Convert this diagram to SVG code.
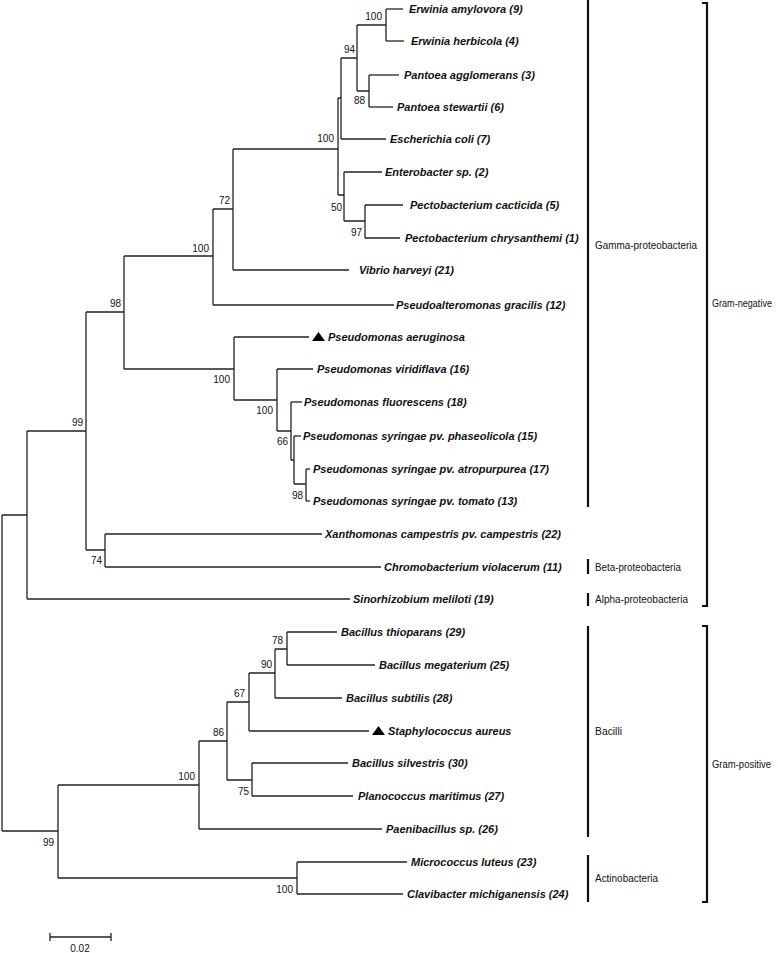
<svg xmlns="http://www.w3.org/2000/svg" width="778" height="953" viewBox="0 0 778 953">
<style>
.t{fill:none;stroke:#222;stroke-width:1.3}
.b{fill:none;stroke:#111;stroke-width:2.2}
.sp{font-family:"Liberation Sans",Arial,sans-serif;font-size:11px;font-weight:bold;font-style:italic;fill:#111}
.bs{font-family:"Liberation Sans",Arial,sans-serif;font-size:10px;fill:#111;text-anchor:end}
.cl{font-family:"Liberation Sans",Arial,sans-serif;font-size:11px;fill:#111}
</style>
<rect width="778" height="953" fill="#fff"/>
<g id="connectors" class="t">
<path d="M2,515V831M2,515H27M2,831H58"/>
<path d="M27,431V599M27,431H86"/>
<path d="M86,312V550M86,312H124M86,550H105"/>
<path d="M105,534V567"/>
<path d="M124,256V369M124,256H213M124,369H234"/>
<path d="M213,209V305M213,209H233"/>
<path d="M233,149V270M233,149H338"/>
<path d="M338,98V195M338,98H341M338,195H344"/>
<path d="M341,58V139M341,58H357"/>
<path d="M357,25V91M357,25H386M357,91H369"/>
<path d="M386,9V41M369,75V107"/>
<path d="M344,172V221M344,221H365M365,205V238"/>
<path d="M234,337V400M234,400H277M277,369V431M277,431H291"/>
<path d="M291,402V460M291,460H294M294,436V484M294,484H306M306,469V501"/>
<path d="M58,785V878M58,785H199M58,878H297M297,862V894"/>
<path d="M199,741V829M199,741H227M227,702V780M227,702H249M227,780H252"/>
<path d="M249,673V731M249,673H275M275,649V698M275,649H287M287,632V665M252,763V796"/>
</g>
<g id="leaves">
<g id="n1"><path class="t" d="M386,9H403"/><text class="sp" x="409" y="13">Erwinia amylovora (9)</text></g>
<g id="n2"><path class="t" d="M386,41H404"/><text class="sp" x="411" y="45">Erwinia herbicola (4)</text></g>
<g id="n3"><path class="t" d="M369,75H399"/><text class="sp" x="404" y="79">Pantoea agglomerans (3)</text></g>
<g id="n4"><path class="t" d="M369,107H393"/><text class="sp" x="397" y="111">Pantoea stewartii (6)</text></g>
<g id="n5"><path class="t" d="M341,139H386"/><text class="sp" x="390" y="143">Escherichia coli (7)</text></g>
<g id="n6"><path class="t" d="M344,172H382"/><text class="sp" x="385" y="176">Enterobacter sp. (2)</text></g>
<g id="n7"><path class="t" d="M365,205H403"/><text class="sp" x="410" y="209">Pectobacterium cacticida (5)</text></g>
<g id="n8"><path class="t" d="M365,238H400"/><text class="sp" x="405" y="242">Pectobacterium chrysanthemi (1)</text></g>
<g id="n9"><path class="t" d="M233,270H349"/><text class="sp" x="359" y="274">Vibrio harveyi (21)</text></g>
<g id="n10"><path class="t" d="M213,305H394"/><text class="sp" x="396" y="309">Pseudoalteromonas gracilis (12)</text></g>
<g id="n11"><path class="t" d="M234,337H309"/><polygon points="312,341 318.5,332 325,341" fill="#000"/><text class="sp" x="328" y="341">Pseudomonas aeruginosa</text></g>
<g id="n12"><path class="t" d="M277,369H313"/><text class="sp" x="317" y="373">Pseudomonas viridiflava (16)</text></g>
<g id="n13"><path class="t" d="M291,402H302"/><text class="sp" x="304" y="406">Pseudomonas fluorescens (18)</text></g>
<g id="n14"><path class="t" d="M294,436H301"/><text class="sp" x="303" y="440">Pseudomonas syringae pv. phaseolicola (15)</text></g>
<g id="n15"><path class="t" d="M306,469H310"/><text class="sp" x="313" y="473">Pseudomonas syringae pv. atropurpurea (17)</text></g>
<g id="n16"><path class="t" d="M306,501H310"/><text class="sp" x="313" y="505">Pseudomonas syringae pv. tomato (13)</text></g>
<g id="n17"><path class="t" d="M105,534H322"/><text class="sp" x="325" y="538">Xanthomonas campestris pv. campestris (22)</text></g>
<g id="n18"><path class="t" d="M105,567H381"/><text class="sp" x="384" y="571">Chromobacterium violacerum (11)</text></g>
<g id="n19"><path class="t" d="M27,599H350"/><text class="sp" x="353" y="603">Sinorhizobium meliloti (19)</text></g>
<g id="n20"><path class="t" d="M287,632H337"/><text class="sp" x="341" y="636">Bacillus thioparans (29)</text></g>
<g id="n21"><path class="t" d="M287,665H375"/><text class="sp" x="379" y="669">Bacillus megaterium (25)</text></g>
<g id="n22"><path class="t" d="M275,698H342"/><text class="sp" x="346" y="702">Bacillus subtilis (28)</text></g>
<g id="n23"><path class="t" d="M249,731H369"/><polygon points="372,735 378.5,726 385,735" fill="#000"/><text class="sp" x="388" y="735">Staphylococcus aureus</text></g>
<g id="n24"><path class="t" d="M252,763H348"/><text class="sp" x="352" y="767">Bacillus silvestris (30)</text></g>
<g id="n25"><path class="t" d="M252,796H353"/><text class="sp" x="358" y="800">Planococcus maritimus (27)</text></g>
<g id="n26"><path class="t" d="M199,829H382"/><text class="sp" x="386" y="833">Paenibacillus sp. (26)</text></g>
<g id="n27"><path class="t" d="M297,862H407"/><text class="sp" x="411" y="866">Micrococcus luteus (23)</text></g>
<g id="n28"><path class="t" d="M297,894H403"/><text class="sp" x="407" y="898">Clavibacter michiganensis (24)</text></g>
</g>
<g id="bootstrap">
<text class="bs" x="382" y="20">100</text>
<text class="bs" x="355" y="53">94</text>
<text class="bs" x="365" y="104">88</text>
<text class="bs" x="334" y="142">100</text>
<text class="bs" x="342" y="211">50</text>
<text class="bs" x="362" y="236">97</text>
<text class="bs" x="230" y="204">72</text>
<text class="bs" x="209" y="252">100</text>
<text class="bs" x="121" y="307">98</text>
<text class="bs" x="230" y="383">100</text>
<text class="bs" x="273" y="414">100</text>
<text class="bs" x="288" y="445">66</text>
<text class="bs" x="303" y="499">98</text>
<text class="bs" x="83" y="426">99</text>
<text class="bs" x="102" y="564">74</text>
<text class="bs" x="283" y="644">78</text>
<text class="bs" x="272" y="668">90</text>
<text class="bs" x="245" y="697">67</text>
<text class="bs" x="224" y="736">86</text>
<text class="bs" x="195" y="780">100</text>
<text class="bs" x="249" y="795">75</text>
<text class="bs" x="54" y="846">99</text>
<text class="bs" x="293" y="893">100</text>
</g>
<g id="scale">
<path class="t" d="M50,937H111M50,933V941M111,933V941"/>
<text class="bs" x="80" y="952" style="text-anchor:middle">0.02</text>
</g>
<g id="groups">
<path class="b" d="M588,0V507M588,559V574M588,593V606M588,626V837M588,855V902"/>
<path class="b" d="M702,3H707V606H702M702,626H707V902H702"/>
<text class="cl" x="595" y="249" textLength="102" lengthAdjust="spacingAndGlyphs">Gamma-proteobacteria</text>
<text class="cl" x="595" y="571" textLength="86" lengthAdjust="spacingAndGlyphs">Beta-proteobacteria</text>
<text class="cl" x="595" y="603" textLength="93" lengthAdjust="spacingAndGlyphs">Alpha-proteobacteria</text>
<text class="cl" x="595" y="735" textLength="27" lengthAdjust="spacingAndGlyphs">Bacilli</text>
<text class="cl" x="595" y="882" textLength="63" lengthAdjust="spacingAndGlyphs">Actinobacteria</text>
<text class="cl" x="712" y="307" textLength="60" lengthAdjust="spacingAndGlyphs">Gram-negative</text>
<text class="cl" x="712" y="768" textLength="59" lengthAdjust="spacingAndGlyphs">Gram-positive</text>
</g>
</svg>
